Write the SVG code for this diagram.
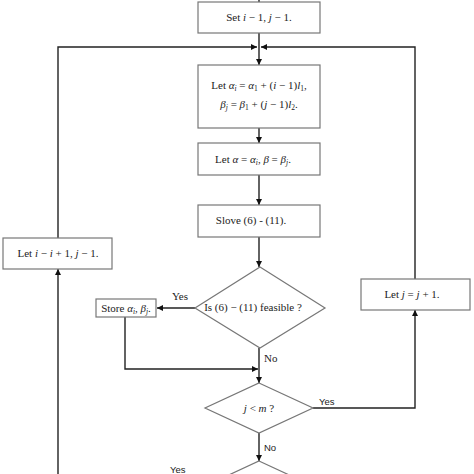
<svg xmlns="http://www.w3.org/2000/svg" width="474" height="474" viewBox="0 0 474 474">
<defs>
<style>
.box{fill:#fff;stroke:#777;stroke-width:1.2}
.dia{fill:#fff;stroke:#777;stroke-width:1.2}
.ln{fill:none;stroke:#222;stroke-width:1.4}
.t{font-family:"Liberation Serif",serif;font-size:11px;fill:#222}
.m{font-style:italic}
.s{font-family:"Liberation Sans",sans-serif;font-size:9.5px;fill:#222}
.sub{font-size:7.5px}
</style>
<marker id="ah" viewBox="0 0 10 10" refX="10" refY="5" markerWidth="6" markerHeight="6" orient="auto" markerUnits="userSpaceOnUse">
<path d="M0,0 L10,5 L0,10 z" fill="#111"/>
</marker>
</defs>
<rect width="474" height="474" fill="#fff"/>
<g id="connectors">
<line class="ln" x1="259" y1="0" x2="259" y2="2"/>
<line class="ln" x1="259" y1="33" x2="259" y2="65" marker-end="url(#ah)"/>
<polyline class="ln" points="58,238 58,47 257,47" marker-end="url(#ah)"/>
<polyline class="ln" points="415,279 415,47 261,47" marker-end="url(#ah)"/>
<line class="ln" x1="259" y1="128" x2="259" y2="143" marker-end="url(#ah)"/>
<line class="ln" x1="259" y1="175" x2="259" y2="205" marker-end="url(#ah)"/>
<line class="ln" x1="259" y1="237" x2="259" y2="267" marker-end="url(#ah)"/>
<line class="ln" x1="195" y1="308" x2="157" y2="308" marker-end="url(#ah)"/>
<polyline class="ln" points="125,317 125,369 258,369" marker-end="url(#ah)"/>
<line class="ln" x1="259" y1="348" x2="259" y2="383" marker-end="url(#ah)"/>
<polyline class="ln" points="313,408 415,408 415,310" marker-end="url(#ah)"/>
<line class="ln" x1="259" y1="433" x2="259" y2="461" marker-end="url(#ah)"/>
<line class="ln" x1="58" y1="474" x2="58" y2="269" marker-end="url(#ah)"/>
<text class="t" x="172" y="300">Yes</text>
<text class="t" x="264" y="362">No</text>
<text class="s" x="319" y="405">Yes</text>
<text class="s" x="264" y="451">No</text>
<text class="s" x="170" y="473">Yes</text>
</g>
<g id="n-set">
<rect class="box" x="198" y="2" width="122" height="31"/>
<text class="t" x="259" y="21" text-anchor="middle">Set <tspan class="m">i</tspan> − 1, <tspan class="m">j</tspan> − 1.</text>
</g>
<g id="n-let-ab">
<rect class="box" x="198" y="65" width="122" height="63"/>
<text class="t" x="259" y="89" text-anchor="middle">Let <tspan class="m">α</tspan><tspan class="m sub" dy="2">i</tspan><tspan dy="-2"> = </tspan><tspan class="m">α</tspan><tspan class="sub" dy="2">1</tspan><tspan dy="-2"> + (</tspan><tspan class="m">i</tspan> − 1)<tspan class="m">l</tspan><tspan class="sub" dy="2">1</tspan><tspan dy="-2">,</tspan></text>
<text class="t" x="259" y="108" text-anchor="middle"><tspan class="m">β</tspan><tspan class="m sub" dy="2">j</tspan><tspan dy="-2"> = </tspan><tspan class="m">β</tspan><tspan class="sub" dy="2">1</tspan><tspan dy="-2"> + (</tspan><tspan class="m">j</tspan> − 1)<tspan class="m">l</tspan><tspan class="sub" dy="2">2</tspan><tspan dy="-2">.</tspan></text>
</g>
<g id="n-let-a">
<rect class="box" x="198" y="143" width="122" height="32"/>
<text class="t" x="253" y="163" text-anchor="middle">Let <tspan class="m">α</tspan> = <tspan class="m">α</tspan><tspan class="m sub" dy="2">i</tspan><tspan dy="-2">, </tspan><tspan class="m">β</tspan> = <tspan class="m">β</tspan><tspan class="m sub" dy="2">j</tspan><tspan dy="-2">.</tspan></text>
</g>
<g id="n-solve">
<rect class="box" x="198" y="205" width="122" height="32"/>
<text class="t" x="251" y="224" text-anchor="middle">Slove (6) - (11).</text>
</g>
<g id="n-feasible">
<polygon class="dia" points="260,267 325,308 260,348 195,308"/>
<text class="t" x="253" y="311" text-anchor="middle">Is (6) − (11) feasible ?</text>
</g>
<g id="n-store">
<rect class="box" x="96" y="299" width="60" height="18"/>
<text class="t" x="126" y="312" text-anchor="middle">Store <tspan class="m">α</tspan><tspan class="m sub" dy="2">i</tspan><tspan dy="-2">, </tspan><tspan class="m">β</tspan><tspan class="m sub" dy="2">j</tspan><tspan dy="-2">.</tspan></text>
</g>
<g id="n-jm">
<polygon class="dia" points="259,383 313,408 259,433 205,408"/>
<text class="t" x="259" y="412" text-anchor="middle"><tspan class="m">j</tspan> &lt; <tspan class="m">m</tspan>  ?</text>
</g>
<g id="n-letj">
<rect class="box" x="361" y="279" width="109" height="31"/>
<text class="t" x="412" y="298" text-anchor="middle">Let  <tspan class="m">j</tspan> = <tspan class="m">j</tspan> + 1.</text>
</g>
<g id="n-leti">
<rect class="box" x="3" y="238" width="109" height="31"/>
<text class="t" x="58" y="257" text-anchor="middle">Let  <tspan class="m">i</tspan> − <tspan class="m">i</tspan> + 1, <tspan class="m">j</tspan> − 1.</text>
</g>
<g id="n-bottom">
<polygon class="dia" points="259,461 313,486 259,511 205,486"/>
</g>
</svg>
